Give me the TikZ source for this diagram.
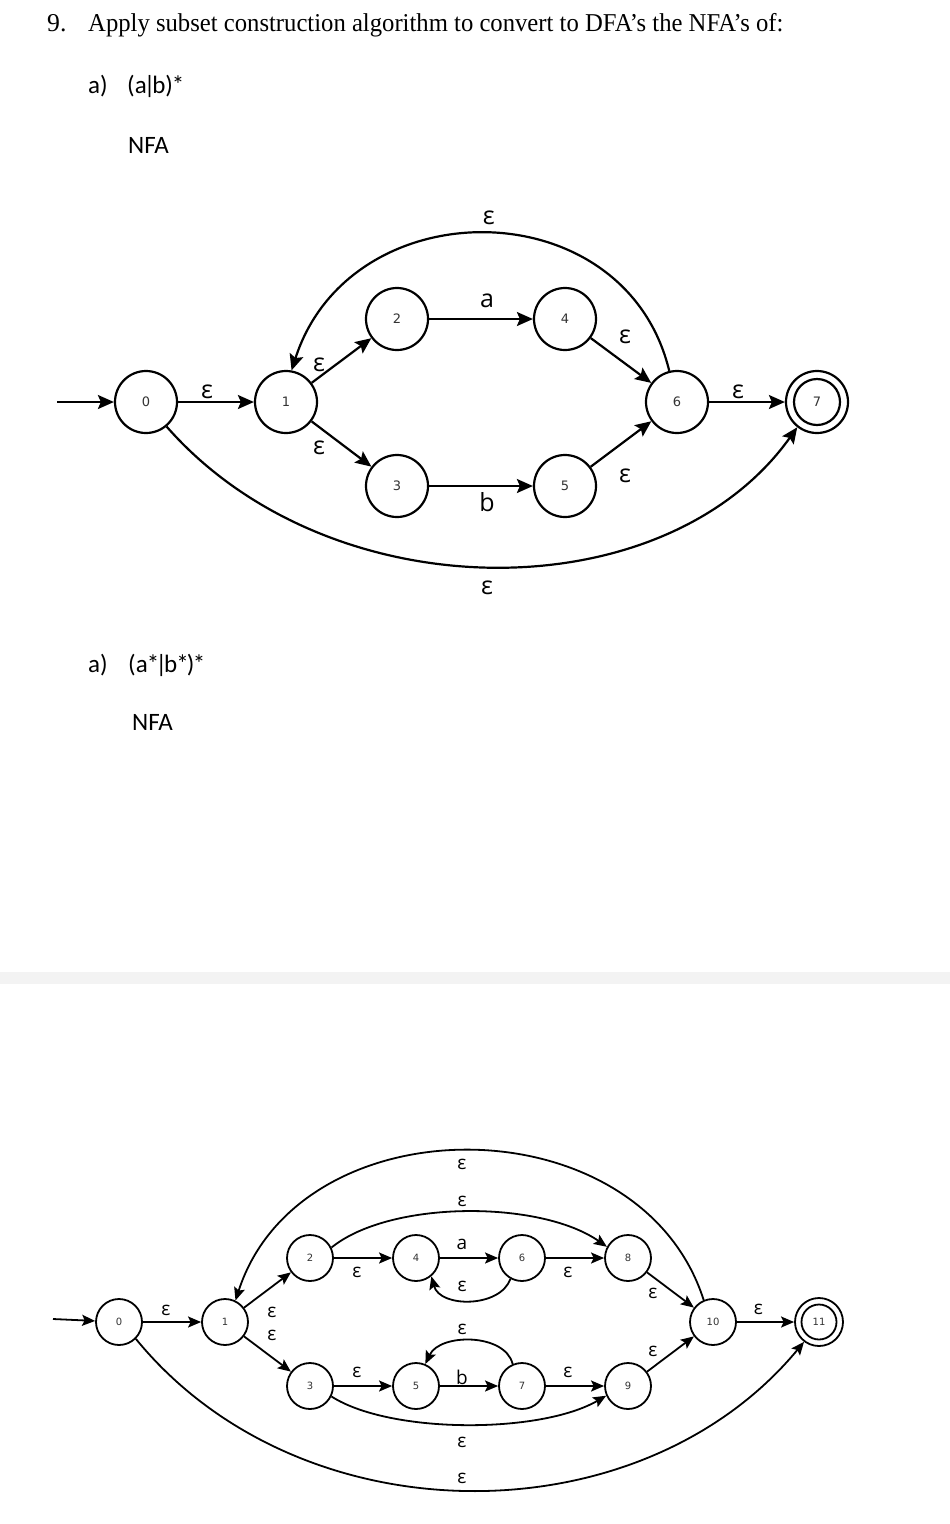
\documentclass[tikz,border=0pt]{standalone}
\usepackage{fontspec}
\usepackage{graphicx}
\setmainfont{Liberation Serif}
\newfontfamily\calfont{Carlito}
\newfontfamily\labfont{Open Sans}
\newfontfamily\numfont{DejaVu Sans}
\usetikzlibrary{arrows.meta}
\definecolor{numgray}{HTML}{333333}
\definecolor{bandgray}{HTML}{F3F3F3}
\begin{document}
\begin{tikzpicture}[x=1pt,y=-1pt,
  stA/.style={circle, draw, line width=2.2pt, minimum size=62pt, inner sep=0pt,
    font=\numfont\fontsize{13}{13}\selectfont, text=numgray},
  stB/.style={circle, draw, line width=1.8pt, minimum size=46pt, inner sep=0pt,
    font=\numfont\fontsize{10}{10}\selectfont, text=numgray},
  edA/.style={line width=2.2pt, -{Stealth[length=16pt,width=14pt,inset=3pt]}},
  edB/.style={line width=1.8pt, -{Stealth[length=13pt,width=11pt,inset=2.5pt]}},
  labA/.style={font=\labfont\fontsize{25}{25}\selectfont, inner sep=0pt, pos=0.5, anchor=center},
  labB/.style={font=\labfont\fontsize{19}{19}\selectfont, inner sep=0pt, pos=0.5, anchor=center},
  head/.style={anchor=base west, inner sep=0pt, font=\fontsize{25.7}{25.7}\selectfont},
  cal/.style={anchor=base west, inner sep=0pt, font=\calfont\fontsize{25}{25}\selectfont}
]
\useasboundingbox[fill=white] (0,0) rectangle (950,1524);
\fill[bandgray] (0,972) rectangle (950,984);

% headings
\node[head] (t9) at (47,31) {9.};
\node[head] (ttitle) at (88,31) {\scalebox{0.96}[1]{Apply subset construction algorithm to convert to DFA’s the NFA’s of:}};
\node[cal] (ta1) at (88,93) {a)};
\node[cal] (tr1) at (127,93) {(a\kern-3pt|\kern-3pt b)\kern-1pt*};
\node[cal] (tn1) at (128,153) {NFA};
\node[cal] (ta2) at (88,672) {a)};
\node[cal] (tr2) at (128,672) {(a\kern-1pt*\kern-3.5pt|\kern-3pt b\kern-1pt*\kern-2pt)\kern-1.5pt*};
\node[cal] (tn2) at (132,730) {NFA};

% ---------- first NFA ----------
\coordinate (s0) at (57,402);
\node[stA] (a0) at (146,402) {0};
\node[stA] (a1) at (286,402) {1};
\node[stA] (a2) at (397,319) {2};
\node[stA] (a3) at (397,486) {3};
\node[stA] (a4) at (565,319) {4};
\node[stA] (a5) at (565,486) {5};
\node[stA] (a6) at (677,402) {6};
\node[stA] (a7) at (817,402) {7};
\draw[line width=2.2pt] (a7.center) circle[radius=23pt];

\draw[edA] (s0) -- (a0);
\draw[edA] (a0) -- node[labA, xshift=-9pt, yshift=10pt] {ε} (a1);
\draw[edA] (a1) -- node[labA, xshift=-22.5pt, yshift=-4.5pt] {ε} (a2);
\draw[edA] (a1) -- node[labA, xshift=-22.5pt, yshift=-4pt] {ε} (a3);
\draw[edA] (a2) -- node[labA, xshift=6pt, yshift=18pt] {a} (a4);
\draw[edA] (a3) -- node[labA, xshift=6pt, yshift=-16pt] {b} (a5);
\draw[edA] (a4) -- node[labA, xshift=4pt, yshift=23.5pt] {ε} (a6);
\draw[edA] (a5) -- node[labA, xshift=4pt, yshift=-32pt] {ε} (a6);
\draw[edA] (a6) -- node[labA, xshift=-9pt, yshift=10pt] {ε} (a7);
\draw[edA] (a6.104) .. controls (625,188) and (350,188) .. node[labA, xshift=3pt, yshift=16pt] {ε} (a1.80);
\draw[edA] (a0.-50) .. controls (330,613) and (665,613) .. node[labA, xshift=-6.6pt, yshift=-21pt] {ε} (a7.232);

% ---------- second NFA ----------
\coordinate (s1) at (53,1319);
\node[stB] (b0) at (119,1322) {0};
\node[stB] (b1) at (225,1322) {1};
\node[stB] (b2) at (310,1258) {2};
\node[stB] (b3) at (310,1386) {3};
\node[stB] (b4) at (416,1258) {4};
\node[stB] (b5) at (416,1386) {5};
\node[stB] (b6) at (522,1258) {6};
\node[stB] (b7) at (522,1386) {7};
\node[stB] (b8) at (628,1258) {8};
\node[stB] (b9) at (628,1386) {9};
\node[stB] (b10) at (713,1322) {10};
\node[stB, minimum size=48pt] (b11) at (819,1322) {11};
\draw[line width=1.8pt] (b11.center) circle[radius=17.5pt];

\draw[edB] (s1) -- (b0);
\draw[edB] (b0) -- node[labB, xshift=-6pt, yshift=12pt] {ε} (b1);
\draw[edB] (b1) -- node[labB, xshift=4.5pt, yshift=-22pt] {ε} (b2);
\draw[edB] (b1) -- node[labB, xshift=4.5pt, yshift=19pt] {ε} (b3);
\draw[edB] (b2) -- node[labB, xshift=-6pt, yshift=-14pt] {ε} (b4);
\draw[edB] (b3) -- node[labB, xshift=-6pt, yshift=14pt] {ε} (b5);
\draw[edB] (b4) -- node[labB, xshift=-7pt, yshift=14pt] {a} (b6);
\draw[edB] (b5) -- node[labB, xshift=-7pt, yshift=9pt] {b} (b7);
\draw[edB] (b6) -- node[labB, xshift=-7pt, yshift=-14pt] {ε} (b8);
\draw[edB] (b7) -- node[labB, xshift=-7pt, yshift=14pt] {ε} (b9);
\draw[edB] (b8) -- node[labB, xshift=-17.5pt, yshift=-3pt] {ε} (b10);
\draw[edB] (b9) -- node[labB, xshift=-17.5pt, yshift=3pt] {ε} (b10);
\draw[edB] (b10) -- node[labB, xshift=-7pt, yshift=13pt] {ε} (b11);
\draw[edB] (b10.113) .. controls (640,1101) and (300,1101) .. node[labB, xshift=-8pt, yshift=-14pt] {ε} (b1.64);
\draw[edB] (b2.26) .. controls (390,1200) and (540,1200) .. node[labB, xshift=-4pt, yshift=10pt] {ε} (b8.152);
\draw[edB] (b6.241) .. controls (500,1308) and (440,1308) .. node[labB, xshift=-8pt, yshift=14pt] {ε} (b4.-50);
\draw[edB] (b7.113) .. controls (505,1333) and (440,1333) .. node[labB, xshift=-9.6pt, yshift=11pt] {ε} (b5.67);
\draw[edB] (b3.-26) .. controls (390,1434) and (540,1434) .. node[labB, xshift=-4pt, yshift=-17.6pt] {ε} (b9.204);
\draw[edB] (b0.-45) .. controls (300,1540) and (640,1540) .. node[labB, xshift=-8pt, yshift=12pt] {ε} (b11.233);
\end{tikzpicture}
\end{document}
